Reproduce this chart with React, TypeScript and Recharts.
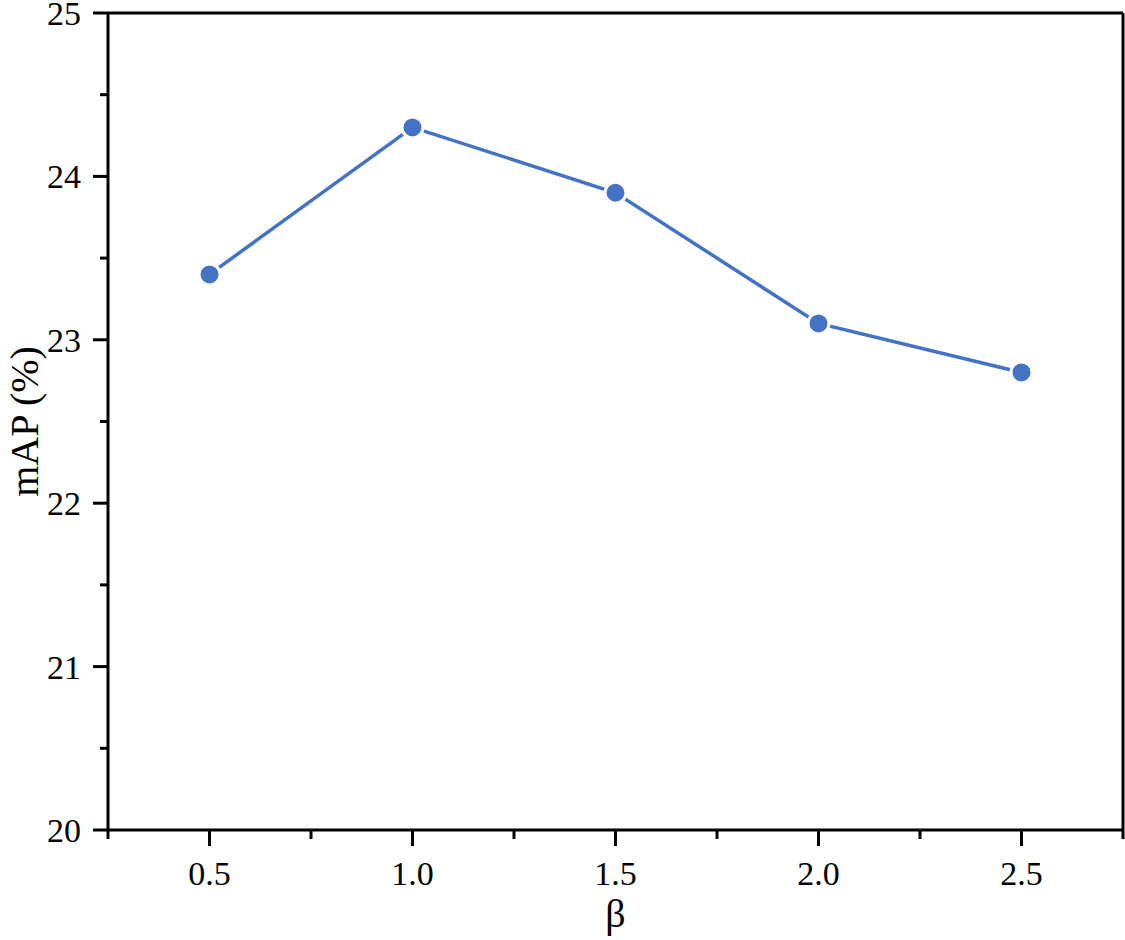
import React from 'react';
import { LineChart, Line, XAxis, YAxis, ReferenceLine } from 'recharts';

const betaValues = [0.5, 1.0, 1.5, 2.0, 2.5];
const mapValues = [23.4, 24.3, 23.9, 23.1, 22.8];
const xTicks = [0.25, 0.5, 0.75, 1.0, 1.25, 1.5, 1.75, 2.0, 2.25, 2.5, 2.75];
const xMajorTicks = [0.5, 1.0, 1.5, 2.0, 2.5];
const yTicks = [20, 20.5, 21, 21.5, 22, 22.5, 23, 23.5, 24, 24.5, 25];
const yMajorTicks = [20, 21, 22, 23, 24, 25];

const data = betaValues.map((b, i) => ({ beta: b, map: mapValues[i] }));

const FONT = '"Liberation Serif", "Times New Roman", serif';
const BLUE = '#4472C4';

const XTick = (props: any) => {
  const { x, y, payload } = props;
  const v = payload.value;
  const major = xMajorTicks.some((m) => Math.abs(m - v) < 1e-9);
  return (
    <g>
      <line x1={x} x2={x} y1={y} y2={y + (major ? 16 : 9)} stroke="#000" strokeWidth={3} />
      {major && (
        <text x={x} y={y + 55} textAnchor="middle" fontFamily={FONT} fontSize={34} fill="#000">
          {v.toFixed(1)}
        </text>
      )}
    </g>
  );
};

const YTick = (props: any) => {
  const { x, y, payload } = props;
  const v = payload.value;
  const major = yMajorTicks.some((m) => Math.abs(m - v) < 1e-9);
  return (
    <g>
      <line x1={x - (major ? 15 : 8)} x2={x} y1={y} y2={y} stroke="#000" strokeWidth={3} />
      {major && (
        <text x={x - 27} y={y + 12} textAnchor="end" fontFamily={FONT} fontSize={34} fill="#000">
          {String(v)}
        </text>
      )}
    </g>
  );
};

const YLabel = (props: any) => {
  const vb = props.viewBox || {};
  const cx = 38;
  const cy = (vb.y ?? 13) + (vb.height ?? 817) / 2;
  return (
    <text
      x={cx}
      y={cy}
      transform={`rotate(-90, ${cx}, ${cy})`}
      textAnchor="middle"
      fontFamily={FONT}
      fontSize={40}
      fill="#000"
    >
      mAP (%)
    </text>
  );
};

const XLabel = (props: any) => {
  const vb = props.viewBox || {};
  const cx = (vb.x ?? 108) + (vb.width ?? 1015) / 2;
  return (
    <text x={cx} y={927} textAnchor="middle" fontFamily={FONT} fontSize={40} fill="#000">
      β
    </text>
  );
};

export default function App() {
  return (
    <div style={{ position: 'absolute', left: 0, top: 0, width: 1125, height: 940, background: '#fff' }}>
      <LineChart width={1125} height={940} data={data} margin={{ top: 13, right: 2, bottom: 0, left: 0 }}>
        <XAxis
          dataKey="beta"
          type="number"
          domain={[0.25, 2.75]}
          ticks={xTicks}
          interval={0}
          height={110}
          tickSize={0}
          tickMargin={0}
          tick={<XTick />}
          axisLine={{ stroke: '#000', strokeWidth: 3 }}
          label={<XLabel />}
          allowDataOverflow
        />
        <YAxis
          type="number"
          domain={[20, 25]}
          ticks={yTicks}
          interval={0}
          width={108}
          tickSize={0}
          tickMargin={0}
          tick={<YTick />}
          axisLine={{ stroke: '#000', strokeWidth: 3 }}
          label={<YLabel />}
          allowDataOverflow
        />
        <ReferenceLine y={25} stroke="#000" strokeWidth={3} />
        <ReferenceLine x={2.75} stroke="#000" strokeWidth={3} />
        <Line
          type="linear"
          dataKey="map"
          stroke={BLUE}
          strokeWidth={3.5}
          dot={{ r: 10.5, fill: BLUE, stroke: '#fff', strokeWidth: 3 }}
          activeDot={false}
          isAnimationActive={false}
        />
      </LineChart>
    </div>
  );
}
